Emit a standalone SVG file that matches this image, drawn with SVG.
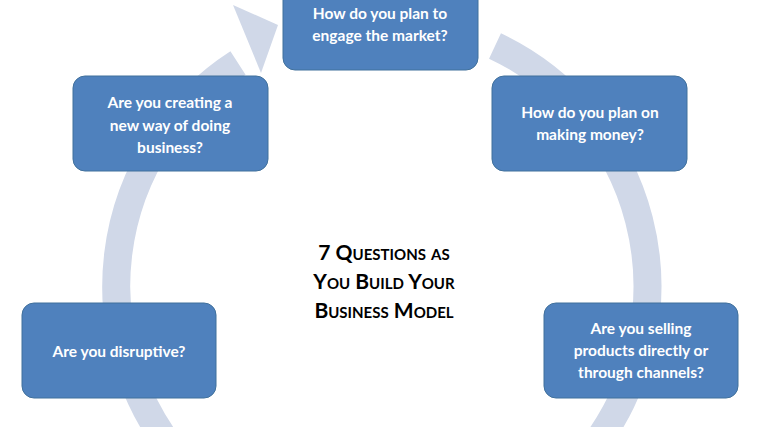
<svg xmlns="http://www.w3.org/2000/svg" width="760" height="427" viewBox="0 0 760 427">
<style>
.box{fill:#4F81BD;stroke:#41719C;stroke-width:1}
.t{font-family:Lato,"Liberation Sans",sans-serif;font-weight:bold;font-size:15.5px;fill:#fff;text-anchor:middle}
.title{font-family:Lato,"Liberation Sans",sans-serif;font-weight:bold;font-size:21px;fill:#000;text-anchor:middle;font-variant:small-caps}
</style>
<g id="connectors">
<path d="M495,46 A265.6,265.6 0 1 1 238,63" fill="none" stroke="#D0D8E8" stroke-width="28"/>
<polygon points="233,5 278,25 261,73" fill="#D0D8E8"/>
</g>
<g id="n1"><rect class="box" x="283" y="-25" width="195" height="95" rx="12"/>
<text class="t" x="380" y="19">How do you plan to</text><text class="t" x="380" y="41">engage the market?</text></g>
<g id="n2"><rect class="box" x="492" y="76" width="195" height="95" rx="12"/>
<text class="t" x="590" y="118">How do you plan on</text><text class="t" x="590" y="140">making money?</text></g>
<g id="n3"><rect class="box" x="544" y="303" width="194" height="95" rx="12"/>
<text class="t" x="641" y="334">Are you selling</text><text class="t" x="641" y="356">products directly or</text><text class="t" x="641" y="378">through channels?</text></g>
<g id="n4"><rect class="box" x="22" y="303" width="194" height="95" rx="12"/>
<text class="t" x="119" y="357">Are you disruptive?</text></g>
<g id="n5"><rect class="box" x="73" y="76" width="195" height="95" rx="12"/>
<text class="t" x="170" y="108">Are you creating a</text><text class="t" x="170" y="131">new way of doing</text><text class="t" x="170" y="153">business?</text></g>
<g id="title">
<text class="title" x="384" y="260">7 Questions as</text>
<text class="title" x="384" y="289">You Build Your</text>
<text class="title" x="384" y="318">Business Model</text>
</g>
</svg>
